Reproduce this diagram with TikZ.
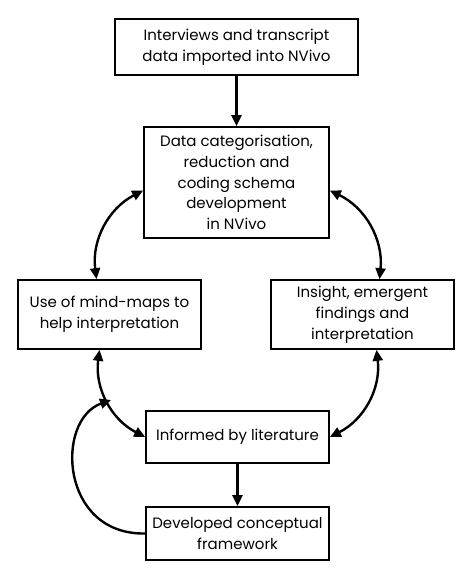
\documentclass[tikz,border=0pt]{standalone}
\usepackage{fontspec}
\setmainfont{Poppins}
\usetikzlibrary{arrows.meta,calc}
\begin{document}
\begin{tikzpicture}[x=1pt,y=-1pt,
  box/.style={draw,line width=1.7pt,align=center,inner sep=0pt,font=\fontsize{15}{20.8}\selectfont},
  conn/.style={line width=2.4pt,-{Triangle[length=11pt,width=10pt]}},
  biconn/.style={line width=2.4pt,{Triangle[length=11pt,width=10pt]}-{Triangle[length=11pt,width=10pt]}}]
\useasboundingbox (0,0) rectangle (474,579);
\node[box,minimum width=243pt,minimum height=56pt] (b1) at (236.5,47) {Interviews and transcript\\data imported into NVivo};
\node[box,minimum width=185pt,minimum height=111pt] (b2) at (236.5,182.5) {Data categorisation,\\reduction and\\coding schema\\development\\in NVivo};
\node[box,minimum width=183pt,minimum height=69pt] (b3) at (109.5,314.5) {Use of mind-maps to\\help interpretation};
\node[box,minimum width=183pt,minimum height=69pt] (b4) at (362.5,314.5) {Insight, emergent\\findings and\\interpretation};
\node[box,minimum width=183pt,minimum height=52pt] (b5) at (237.5,437) {Informed by literature};
\node[box,minimum width=183pt,minimum height=53pt] (b6) at (237.5,533.5) {Developed conceptual\\framework};
\draw[conn] (b1.south) -- (b2.north);
\draw[conn] (b5.south) -- (b6.north);
\draw[biconn] ($(b2.west)+(0,8)$) to[bend right=35] ($(b3.north)+(-13,0)$);
\draw[biconn] ($(b2.east)+(0,8)$) to[bend left=35] ($(b4.north)+(17,0)$);
\draw[biconn] ($(b3.south)+(-10,0)$) to[bend right=35] (b5.west);
\draw[biconn] ($(b4.south)+(14,0)$) to[bend left=35] (b5.east);
\coordinate (fb) at (111,400);
\draw[conn] (b6.west) .. controls (60,535) and (55,420) .. (fb);
\end{tikzpicture}
\end{document}
